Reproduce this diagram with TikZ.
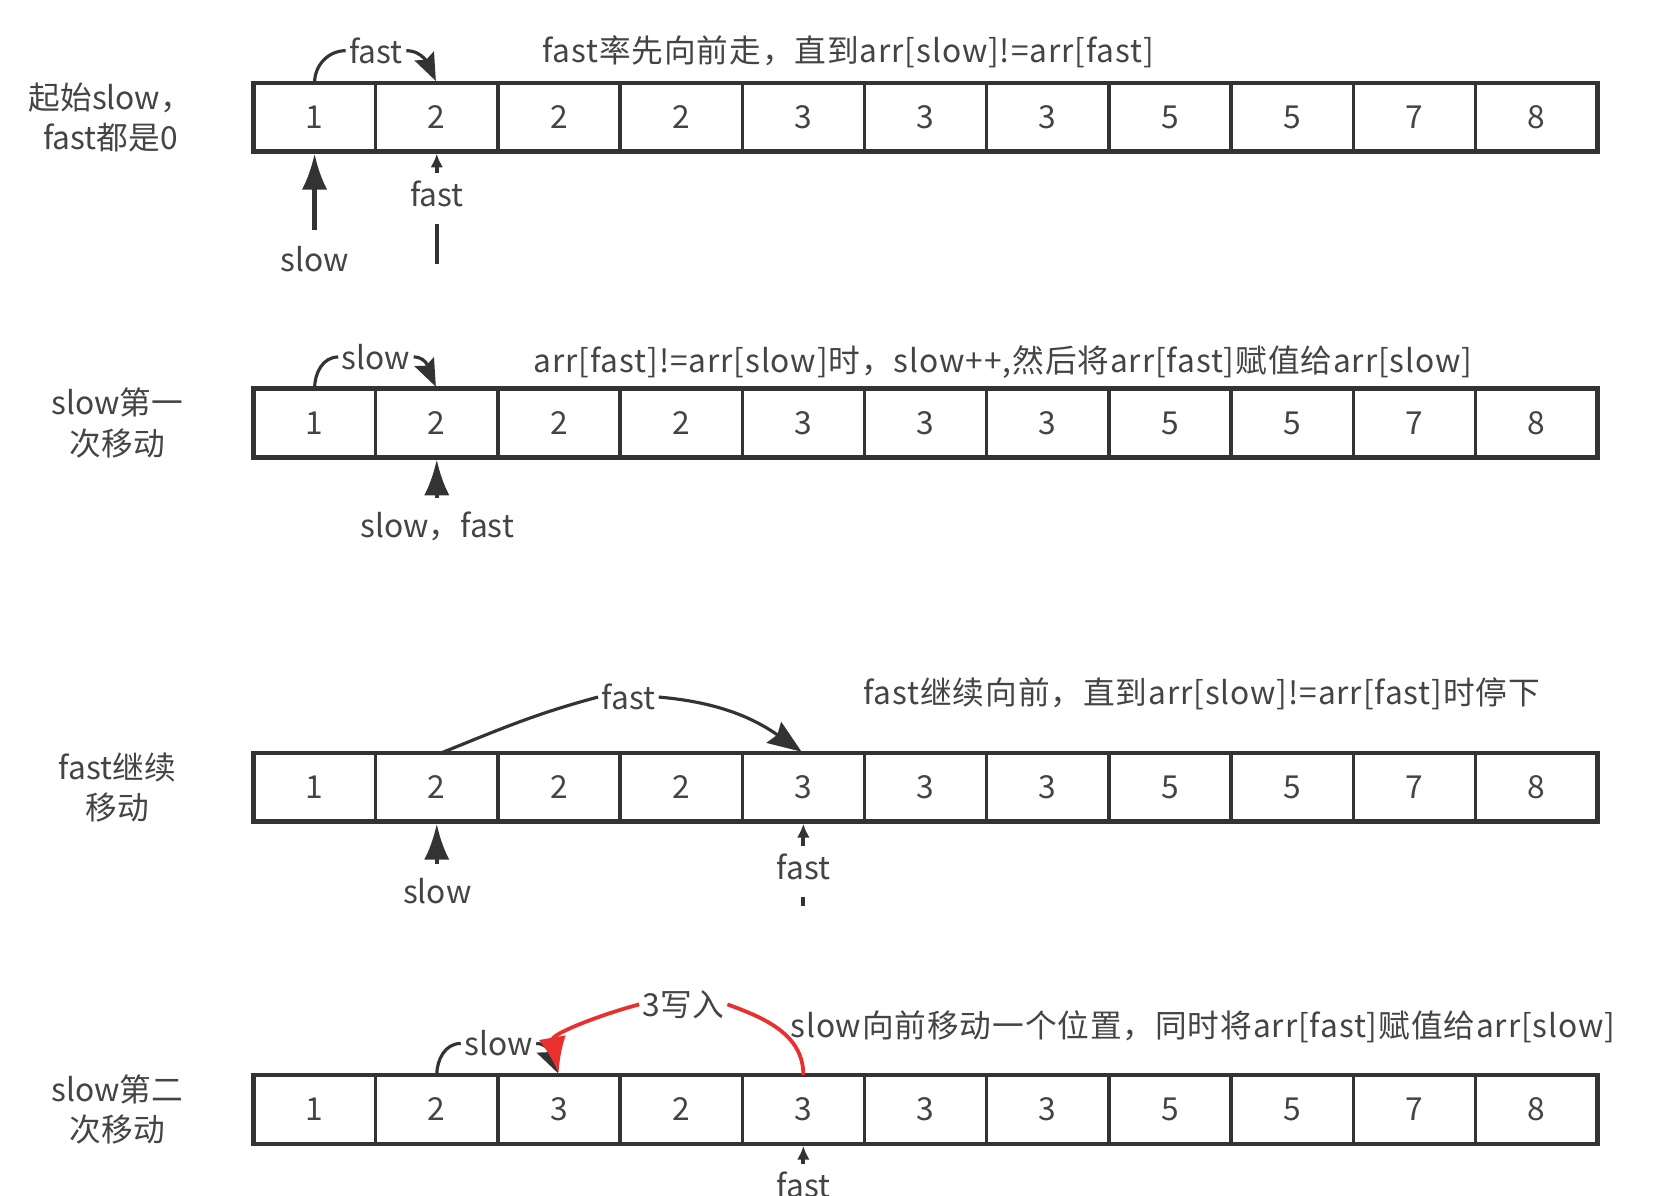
\documentclass[tikz,border=0pt]{standalone}
\usepackage{fontspec}
\setmainfont{Noto Sans CJK SC}
\newfontfamily\descfont[LetterSpace=2.8]{Noto Sans CJK SC}
\usetikzlibrary{arrows.meta}
\definecolor{linec}{HTML}{333333}
\definecolor{textc}{HTML}{444444}
\definecolor{redc}{HTML}{E8312F}
\begin{document}
\begin{tikzpicture}[x=0.5pt,y=0.5pt,
  cell/.style={draw=linec, line width=1.6pt, minimum width=57.85pt, minimum height=32.5pt, inner sep=0pt, outer sep=0pt, text=textc, font=\fontsize{15pt}{18pt}\selectfont},
  frame/.style={draw=linec, line width=2.1pt},
  lbl/.style={text=textc, font=\fontsize{15pt}{18pt}\selectfont, inner sep=1.5pt},
  side/.style={lbl, align=center, font=\fontsize{15pt}{19pt}\selectfont},
  desc/.style={lbl, anchor=west, inner sep=0pt, font=\descfont\fontsize{15pt}{18pt}\selectfont},
  curv/.style={draw=linec, line width=1.5pt},
  curvarr/.style={curv, shorten >=1pt, -{Stealth[length=16pt,width=12pt,inset=2pt]}},
  hookarr/.style={curv, shorten >=1pt, -{Stealth[length=13pt,width=10pt,inset=2pt]}},
  bigarr/.style={draw=linec, line width=2pt, shorten >=1pt, -{Latex[length=17pt,width=12pt]}},
  smallarr/.style={draw=linec, line width=2pt, shorten >=1pt, -{Latex[length=6.5pt,width=6pt]}},
  gaplbl/.style={lbl, fill=white, inner xsep=2pt, inner ysep=5pt, text height=11pt, text depth=3pt},
  redline/.style={draw=redc, line width=1.8pt},
  redarr/.style={redline, shorten >=1pt, -{Latex[length=17pt,width=13pt]}}
]
\useasboundingbox (0,0) rectangle (1568,1132);
\clip (0,0) rectangle (1568,1132);

% ---------- row 1 ----------
\foreach \v [count=\i] in {1,2,2,2,3,3,3,5,5,7,8}
  \node[cell] (r1c\i) at ({297.85+(\i-1)*115.7},1021) {\v};
\draw[frame] (r1c1.north west) rectangle (r1c11.south east);
\node[side] (L1) at (104.5,1021) {起始slow，\\fast都是0};
\node[lbl] (T1) at (356,1084) {fast};
\draw[curv] (r1c1.north) to[out=90,in=180] (T1.west);
\draw[hookarr] (T1.east) to[out=0,in=115] (r1c2.north);
\node[desc] (D1) at (513,1083) {fast率先向前走，直到arr[slow]!=arr[fast]};
\node[lbl] (S1) at (298,887) {slow};
\coordinate (s1b) at (297.85,914);
\draw[bigarr] (s1b) -- (r1c1.south);
\coordinate (f1b) at (413.55,882);
\draw[smallarr] (f1b) -- (r1c2.south);
\node[gaplbl] (F1) at (413.55,944) {fast};

% ---------- row 2 ----------
\foreach \v [count=\i] in {1,2,2,2,3,3,3,5,5,7,8}
  \node[cell] (r2c\i) at ({297.85+(\i-1)*115.7},731.5) {\v};
\draw[frame] (r2c1.north west) rectangle (r2c11.south east);
\node[side] (L2) at (111,731.5) {slow第一\\次移动};
\node[lbl] (T2) at (356,794) {slow};
\draw[curv] (r2c1.north) to[out=90,in=180] (T2.west);
\draw[hookarr] (T2.east) to[out=0,in=115] (r2c2.north);
\node[desc] (D2) at (505,789) {arr[fast]!=arr[slow]时，slow++,然后将arr[fast]赋值给arr[slow]};
\node[lbl] (S2) at (414,634) {slow，fast};
\coordinate (s2b) at (413.55,660);
\draw[bigarr] (s2b) -- (r2c2.south);

% ---------- row 3 ----------
\foreach \v [count=\i] in {1,2,2,2,3,3,3,5,5,7,8}
  \node[cell] (r3c\i) at ({297.85+(\i-1)*115.7},386.5) {\v};
\draw[frame] (r3c1.north west) rectangle (r3c11.south east);
\node[side] (L3) at (111,386.5) {fast继续\\移动};
\node[lbl] (T3) at (595,472) {fast};
\draw[curv] ([xshift=2pt]r3c2.north) to[out=22,in=195] (T3.west);
\draw[curvarr] (T3.east) to[out=-5,in=145] (r3c5.north);
\node[desc] (D3) at (817,475) {fast继续向前，直到arr[slow]!=arr[fast]时停下};
\node[lbl] (S3) at (414,288) {slow};
\coordinate (s3b) at (413.55,314);
\draw[bigarr] (s3b) -- (r3c2.south);
\coordinate (f3b) at (760.65,274);
\draw[smallarr] (f3b) -- (r3c5.south);
\node[gaplbl] (F3) at (760.65,307) {fast};

% ---------- row 4 ----------
\foreach \v [count=\i] in {1,2,3,2,3,3,3,5,5,7,8}
  \node[cell] (r4c\i) at ({297.85+(\i-1)*115.7},81.5) {\v};
\draw[frame] (r4c1.north west) rectangle (r4c11.south east);
\node[side] (L4) at (111,81.5) {slow第二\\次移动};
\node[lbl] (T4) at (472,144) {slow};
\draw[curv] (r4c2.north) to[out=90,in=180] (T4.west);
\draw[hookarr] (T4.east) to[out=0,in=115] (r4c3.north);
\node[lbl] (W4) at (647,181) {3写入};
\draw[redline] (r4c5.north) to[out=90,in=-20] (W4.east);
\draw[redarr] (W4.west) to[out=195,in=100] (r4c3.north);
\node[desc] (D4) at (748,160) {slow向前移动一个位置，同时将arr[fast]赋值给arr[slow]};
\coordinate (f4b) at (760.65,-60);
\draw[smallarr] (f4b) -- (r4c5.south);
\node[gaplbl] (F4) at (760.65,6) {fast};
\end{tikzpicture}
\end{document}
